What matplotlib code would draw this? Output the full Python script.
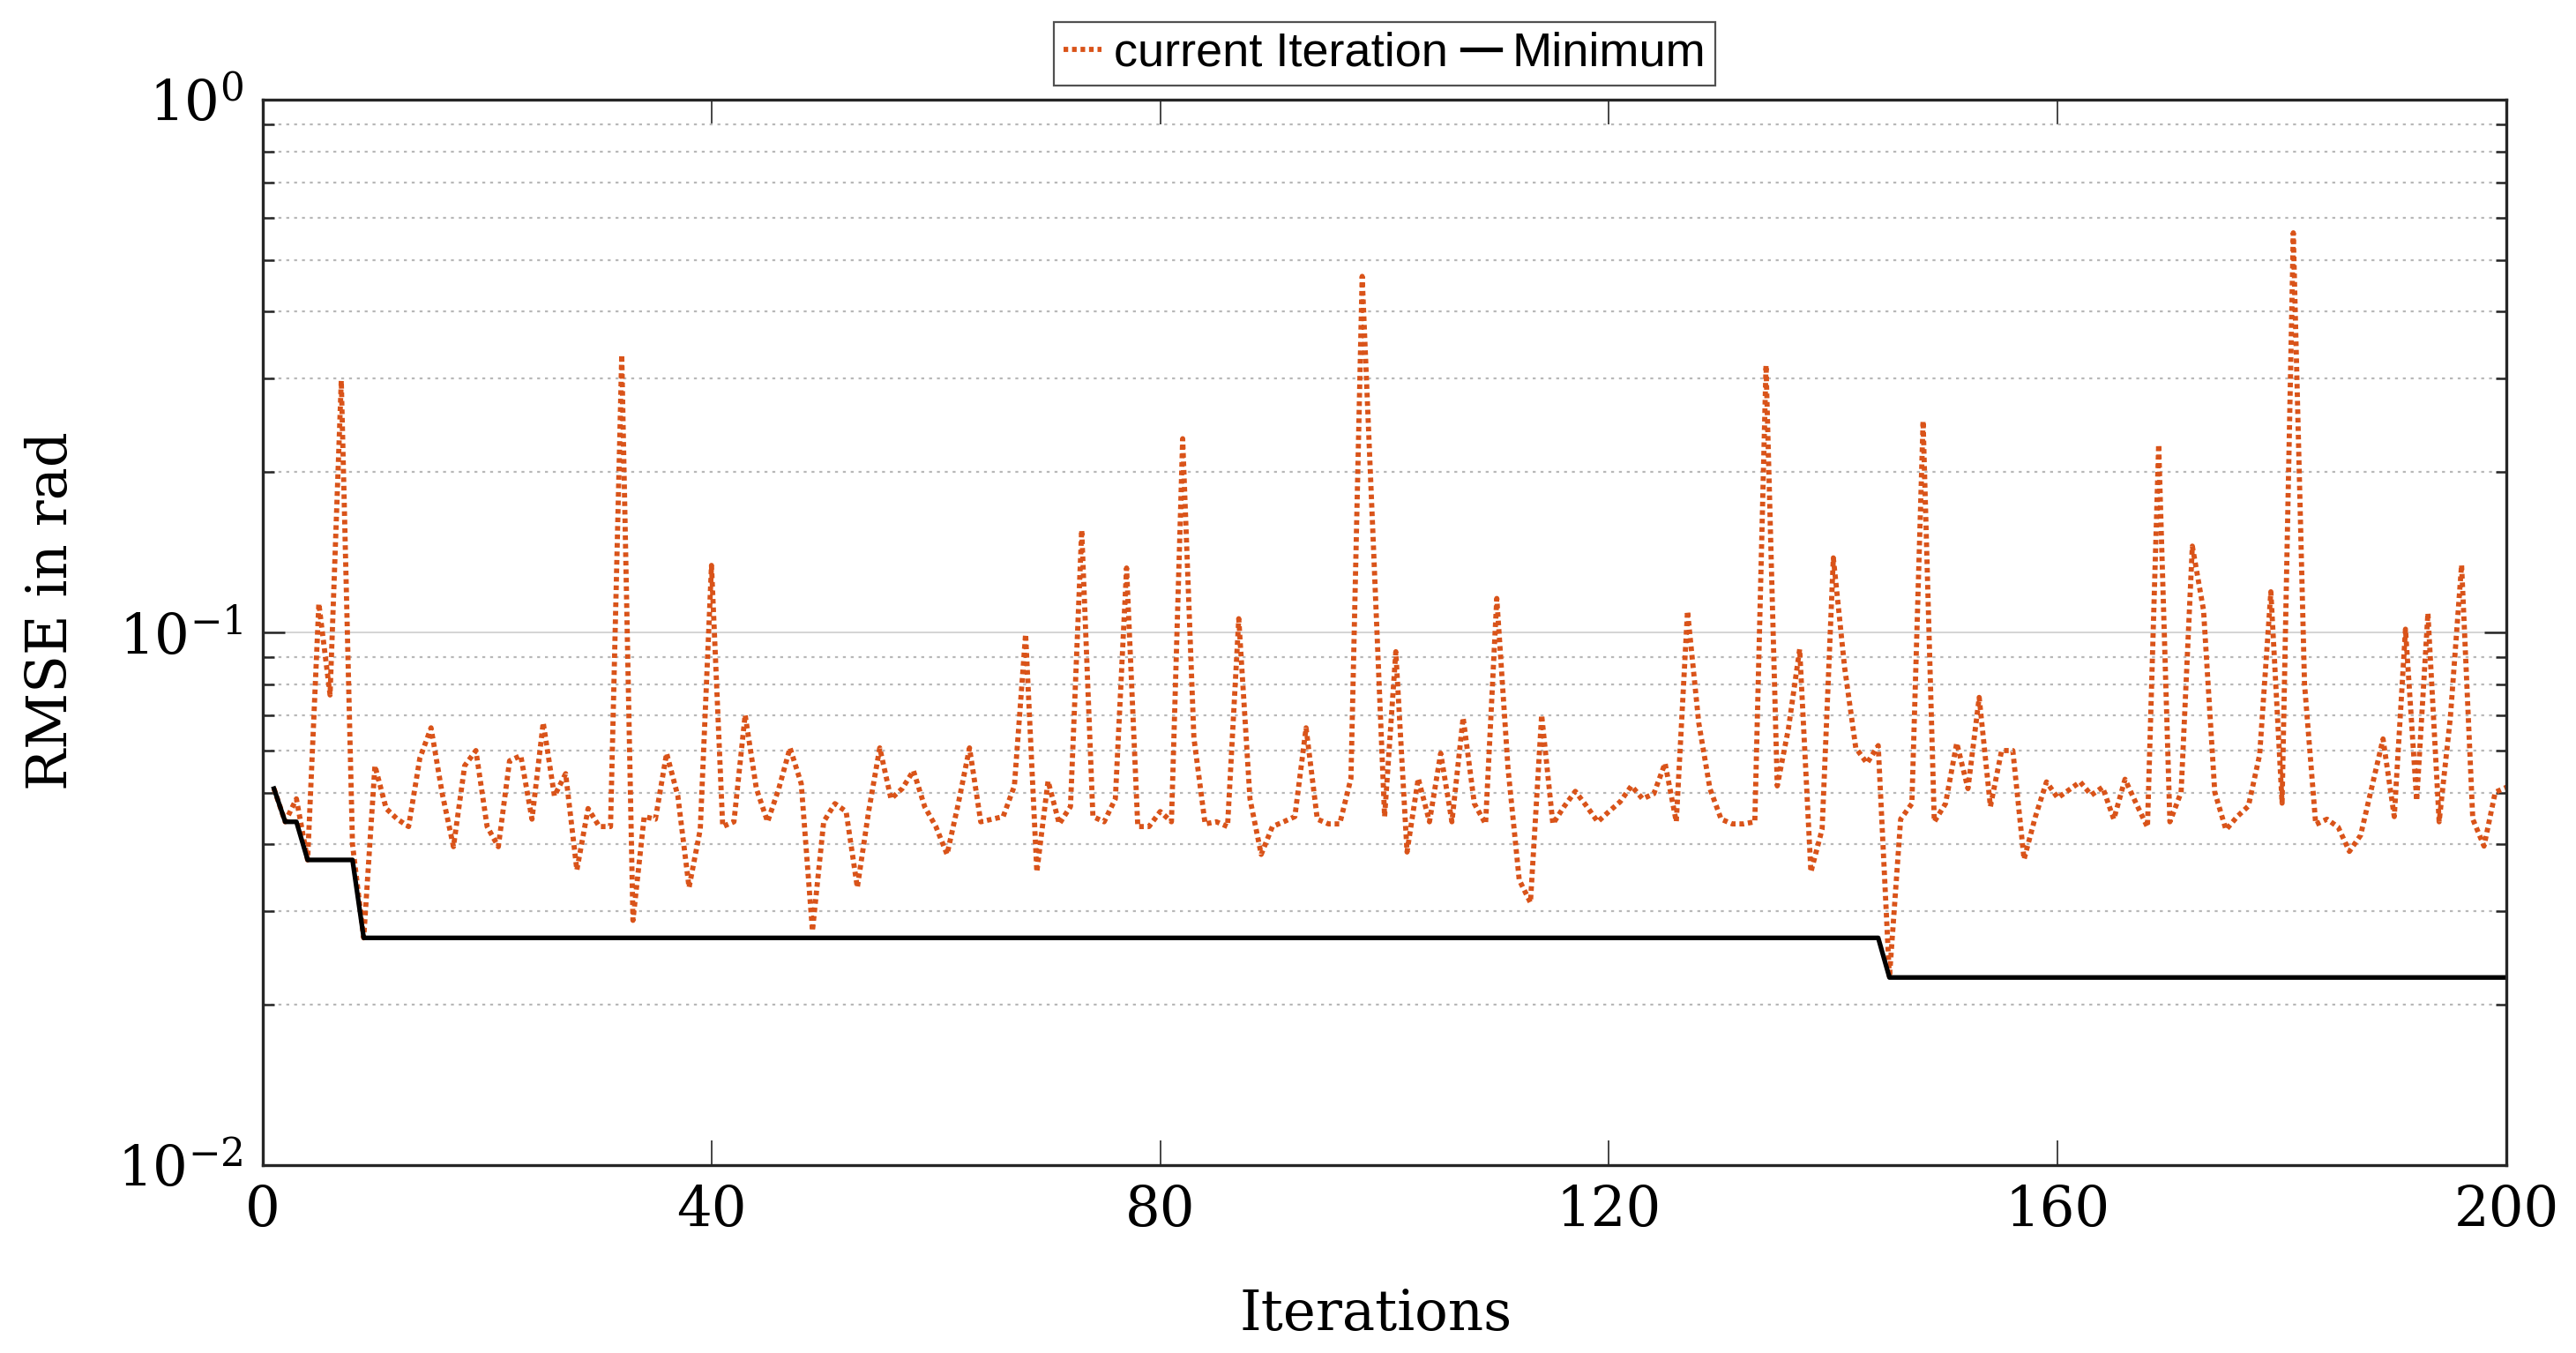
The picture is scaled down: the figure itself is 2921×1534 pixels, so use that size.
import numpy as np
import matplotlib
matplotlib.use("Agg")
import matplotlib.pyplot as plt
from matplotlib.ticker import LogLocator, NullFormatter

# RMSE of each iteration
iterations = np.arange(1, 201)
current = [
    0.0509, 0.0441, 0.0487, 0.0374, 0.1133, 0.0763, 0.297, 0.040, 0.0267, 0.0562,
    0.0467, 0.0446, 0.0432, 0.058, 0.0662, 0.0498, 0.0396, 0.0562, 0.0600, 0.0432,
    0.0396, 0.0574, 0.0587, 0.0446, 0.0677, 0.0493, 0.0543, 0.0358, 0.0467, 0.0432,
    0.0432, 0.332, 0.0288, 0.0451, 0.0446, 0.0593, 0.0493, 0.0332, 0.0427, 0.1336,
    0.0432, 0.0441, 0.070, 0.0509, 0.0441, 0.0509, 0.0607, 0.052, 0.0275, 0.0441,
    0.0477, 0.0461, 0.0332, 0.046, 0.0607, 0.0487, 0.0509, 0.055, 0.0471, 0.0432,
    0.0383, 0.0477, 0.0607, 0.0441, 0.0446, 0.0451, 0.0515, 0.0993, 0.0355, 0.0526,
    0.0437, 0.0471, 0.1557, 0.0451, 0.0441, 0.0487, 0.1321, 0.0432, 0.0432, 0.0461,
    0.0441, 0.231, 0.0634, 0.0437, 0.0441, 0.0432, 0.1061, 0.0487, 0.0383, 0.0432,
    0.0441, 0.0451, 0.0662, 0.0446, 0.0437, 0.0437, 0.0532, 0.466, 0.146, 0.0451,
    0.092, 0.0387, 0.0532, 0.0441, 0.0593, 0.0441, 0.0692, 0.0477, 0.0437, 0.1158,
    0.0556, 0.0343, 0.0311, 0.070, 0.0437, 0.0471, 0.0503, 0.0472, 0.0441, 0.0461,
    0.0481, 0.0515, 0.0487, 0.0498, 0.0568, 0.0441, 0.1097, 0.0677, 0.0509, 0.0446,
    0.0437, 0.0437, 0.0441, 0.3175, 0.0515, 0.066, 0.093, 0.0355, 0.0427, 0.138,
    0.0861, 0.0607, 0.0568, 0.0613, 0.0225, 0.0446, 0.0477, 0.2495, 0.0441, 0.0477,
    0.062, 0.0509, 0.0755, 0.0471, 0.060, 0.060, 0.0375, 0.045, 0.0524, 0.0489,
    0.0506, 0.0524, 0.0495, 0.0512, 0.0446, 0.053, 0.0477, 0.0431, 0.2254, 0.0441,
    0.0501, 0.1452, 0.110, 0.0501, 0.0426, 0.0451, 0.0472, 0.0589, 0.1192, 0.0478,
    0.5625, 0.080, 0.0436, 0.0446, 0.0431, 0.0388, 0.0416, 0.0512, 0.0631, 0.0451,
    0.1014, 0.0483, 0.1087, 0.0441, 0.0692, 0.1339, 0.0446, 0.0397, 0.0501, 0.0512,
]
# best value so far (run lengths)
minimum = [0.0509] + [0.0441] * 2 + [0.0374] * 5 + [0.0267] * 136 + [0.0225] * 56

xticks = [0, 40, 80, 120, 160, 200]

plt.rcParams["font.family"] = ["DejaVu Serif"]
plt.rcParams["mathtext.fontset"] = "dejavuserif"

fig = plt.figure(figsize=(14.605, 7.67), dpi=200)
ax = fig.add_axes([0.1020, 0.1389, 0.8710, 0.7874])

ax.semilogy(iterations, current, color="#D95319", lw=2.1, ls=(0, (0.9, 0.75)),
            label="current Iteration")
ax.semilogy(iterations, minimum, color="black", lw=1.9, label="Minimum")

ax.set_xlim(0, 200)
ax.set_ylim(1e-2, 1)
ax.set_xticks(xticks)
ax.yaxis.set_major_locator(LogLocator(base=10, numticks=5))
ax.yaxis.set_minor_locator(LogLocator(base=10, subs=np.arange(2, 10), numticks=20))
ax.yaxis.set_minor_formatter(NullFormatter())

ax.grid(True, axis="y", which="major", ls="-", color="#d4d4d4", lw=0.7)
ax.grid(True, axis="y", which="minor", ls=(0, (1.5, 2.5)), color="#b8b8b8", lw=0.8)

ax.tick_params(which="both", direction="in", top=True, right=True,
               labelsize=22.5, color="#262626", pad=8)
ax.tick_params(axis="x", which="major", length=10, width=0.6)
ax.tick_params(axis="y", which="major", length=9, width=0.9)
ax.tick_params(axis="y", which="minor", length=4.5, width=0.9)
for sp in ax.spines.values():
    sp.set_color("#262626")
    sp.set_linewidth(1.2)

ax.set_xlabel("Iterations", fontsize=22.5)
ax.set_ylabel("RMSE in rad", fontsize=22.5)
ax.xaxis.set_label_coords(0.496, -0.115)
ax.yaxis.set_label_coords(-0.082, 0.52)

leg = ax.legend(loc="lower center", bbox_to_anchor=(0.5, 1.0), ncol=2,
                prop={"family": "Liberation Sans", "size": 19.5},
                frameon=True, fancybox=False, edgecolor="#262626",
                handlelength=0.8, handletextpad=0.25, columnspacing=0.3,
                borderpad=0.2, borderaxespad=0.3)
leg.get_frame().set_linewidth(0.8)

fig.savefig("out.png", dpi=200, facecolor="white")
